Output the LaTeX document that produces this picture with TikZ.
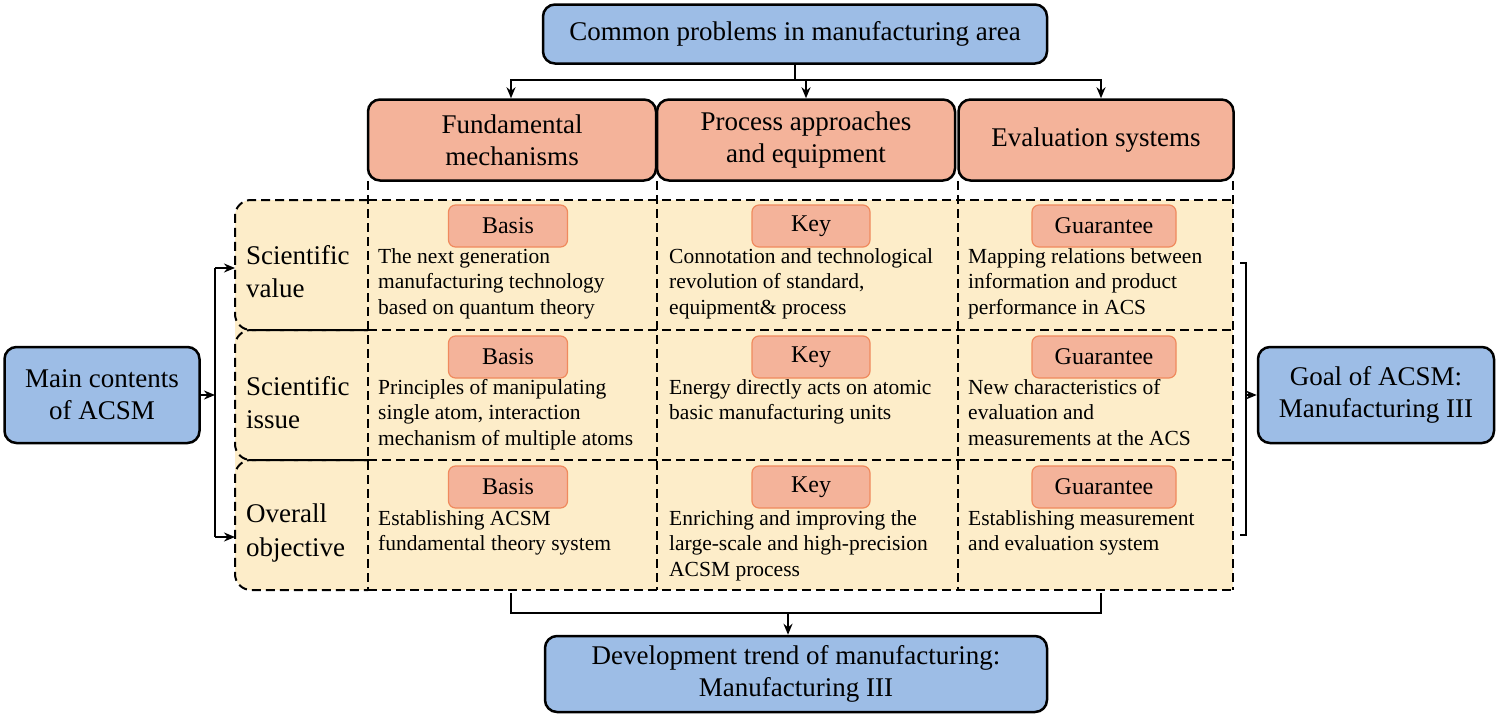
\documentclass[tikz,border=0pt]{standalone}
\usepackage{fontspec}
\setmainfont{Liberation Serif}
\usetikzlibrary{positioning,arrows.meta}
\definecolor{boxblue}{HTML}{9DBDE6}
\definecolor{boxorange}{HTML}{F4B39A}
\definecolor{tagedge}{HTML}{F08A5D}
\definecolor{cellfill}{HTML}{FDEDC9}
\tikzset{
  bluebox/.style={draw, line width=2.5pt, rounded corners=12pt, fill=boxblue, align=center,
    font=\fontsize{27}{32}\selectfont},
  headbox/.style={draw, line width=2.5pt, rounded corners=12pt, fill=boxorange, align=center,
    font=\fontsize{27}{32}\selectfont, minimum height=81pt},
  tagbox/.style={draw=tagedge, line width=1.2pt, rounded corners=7pt, fill=boxorange, minimum height=42pt,
    font=\fontsize{24}{28}\selectfont},
  celltext/.style={anchor=north west, align=left, inner sep=0pt, font=\fontsize{21.5}{25.5}\selectfont},
  rowlabel/.style={anchor=west, align=left, inner sep=0pt, font=\fontsize{27}{33}\selectfont},
  link/.style={line width=2pt, -{Stealth[length=11pt,width=9pt]}},
  dashline/.style={line width=2pt, dash pattern=on 9pt off 5pt}
}
\begin{document}
\begin{tikzpicture}[x=1pt,y=-1pt]
\useasboundingbox (0,0) rectangle (1499,720);

% cell background
\fill[cellfill, rounded corners=16pt] (235,200) rectangle (400,590);
\fill[cellfill] (368,200) rectangle (1233,590);
\foreach \t in {200,330,460}
  \draw[dashline, rounded corners=16pt] (368,\t) -- (235,\t) -- (235,\t+130) -- (368,\t+130);
\foreach \y in {200,330,460,590}
  \draw[dashline] (368,\y) -- (1233,\y);
\foreach \x in {368,657,958,1233}
  \draw[dashline] (\x,181) -- (\x,590);

% boxes
\node[bluebox, minimum width=504pt, minimum height=59pt] (top) at (795,34) {Common problems in manufacturing area};
\node[headbox, minimum width=288pt] (mech) at (512,140) {Fundamental\\mechanisms};
\node[headbox, minimum width=298pt] (proc) at (806,140) {Process approaches\\and equipment};
\node[headbox, minimum width=275pt] (eval) at (1096,140) {Evaluation systems};
\node[bluebox, minimum width=195pt, minimum height=96pt] (main) at (102,395) {Main contents\\of ACSM};
\node[bluebox, minimum width=236pt, minimum height=96pt] (goal) at (1376,395) {Goal of ACSM:\\Manufacturing III};
\node[bluebox, minimum width=502pt, minimum height=76pt] (trend) at (796,674) {Development trend of manufacturing:\\Manufacturing III};

% row labels
\node[rowlabel] (rv) at (246,272) {Scientific\\value};
\node[rowlabel] (ri) at (246,403) {Scientific\\issue};
\node[rowlabel] (ro) at (246,533) {Overall\\objective};

% tags
\foreach \r/\yy in {1/226,2/357,3/487} {
  \node[tagbox, minimum width=119pt] (b\r) at (508,\yy) {Basis};
  \node[tagbox, minimum width=118pt] (k\r) at (811,\yy) {Key};
  \node[tagbox, minimum width=144pt] (g\r) at (1104,\yy) {Guarantee};
}

% cell texts
\node[celltext] (t11) at (378,248) {The next generation\\manufacturing technology\\based on quantum theory};
\node[celltext] (t12) at (669,248) {Connotation and technological\\revolution of standard,\\equipment\& process};
\node[celltext] (t13) at (968,248) {Mapping relations between\\information and product\\performance in ACS};
\node[celltext] (t21) at (378,379) {Principles of manipulating\\single atom, interaction\\mechanism of multiple atoms};
\node[celltext] (t22) at (669,379) {Energy directly acts on atomic\\basic manufacturing units};
\node[celltext] (t23) at (968,379) {New characteristics of\\evaluation and\\measurements at the ACS};
\node[celltext] (t31) at (378,510) {Establishing ACSM\\fundamental theory system};
\node[celltext] (t32) at (669,510) {Enriching and improving the\\large-scale and high-precision\\ACSM process};
\node[celltext] (t33) at (968,510) {Establishing measurement\\and evaluation system};

% top connectors
\coordinate (tj) at (795,80);
\draw[line width=2pt] (top.south) -- (tj);
\draw[link] (tj) -| (mech.north -| 511,0);
\draw[link] (tj) -| (proc.north);
\draw[link] (tj) -| (eval.north -| 1101,0);

% left connectors
\coordinate (lj) at (215,395);
\draw[link] (main.east) -- (lj);
\draw[link] (215,268) |- (235,268) coordinate (lv);
\draw[line width=2pt] (215,268) -- (215,537);
\draw[link] (215,537) -- (235,537) coordinate (lo);

% right bracket
\draw[line width=2pt] (1240,263) -- (1246,263) -- (1246,535) -- (1240,535);
\coordinate (rj) at (1246,395);
\draw[link] (rj) -- (goal.west);

% bottom connectors
\coordinate (bj) at (788,613);
\draw[line width=2pt] (511,593) |- (bj) -| (1101,593);
\draw[link] (bj) -- (trend.north -| bj);
\end{tikzpicture}
\end{document}
